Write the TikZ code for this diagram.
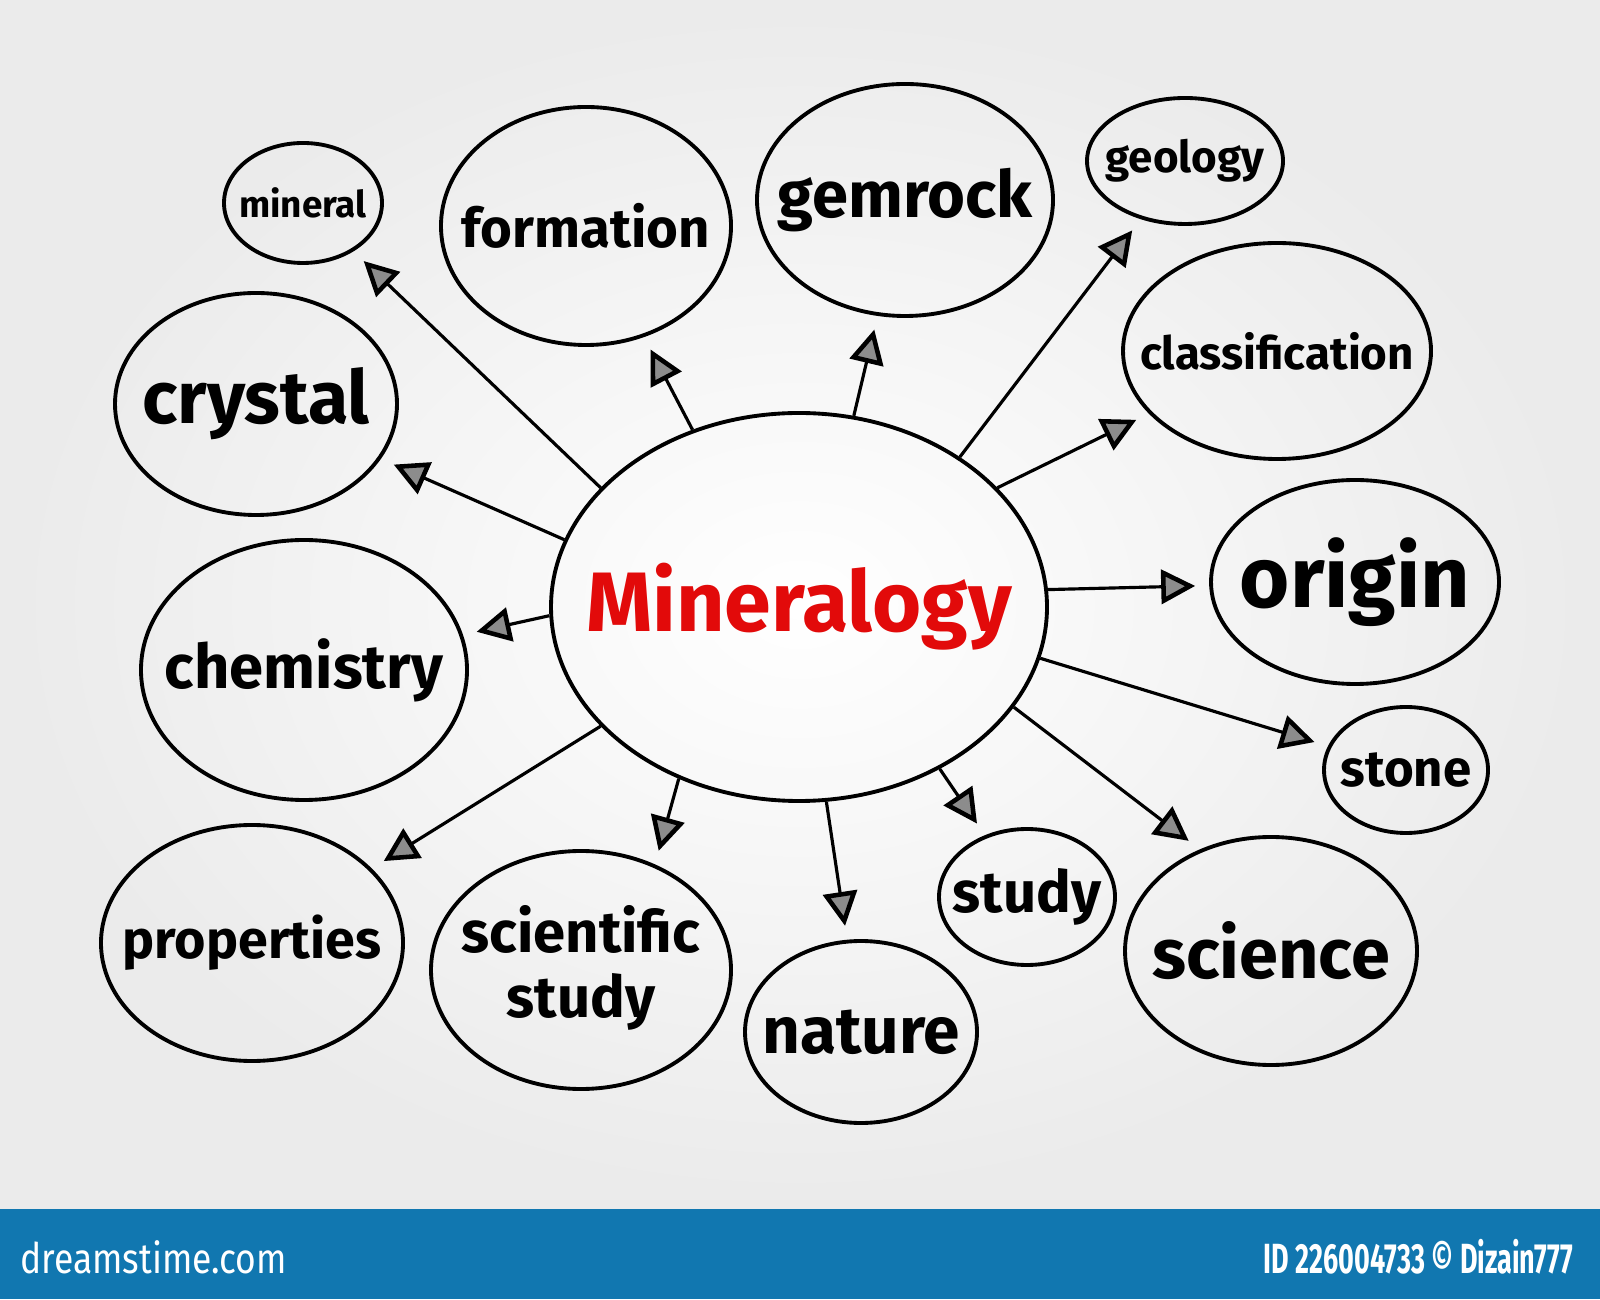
\documentclass[tikz,border=0pt]{standalone}
\usepackage{fontspec}
\setmainfont{Fira Sans}
\usetikzlibrary{shapes.geometric}
\usetikzlibrary{arrows.meta}
\definecolor{bannerblue}{RGB}{17,119,176}
\definecolor{titlered}{RGB}{226,10,10}
\newcommand{\ctext}[1]{\makebox[0pt]{#1}}

\begin{document}
\begin{tikzpicture}

\useasboundingbox (0,0) rectangle (16,12.99);
\shade[inner color=white, outer color=black!8] (0,0.9) rectangle (16,12.99);
\fill[bannerblue] (0,0) rectangle (16,0.9);

\begin{scope}[ellipse, line width=1.1pt, inner sep=0pt,
              fs/.style={font=\bfseries\fontsize{#1}{#1}\selectfont}]
  \node[draw, fs=24,   text=titlered, minimum width=4.96cm, minimum height=3.88cm] (MIN) at ( 7.99, 6.92) {\ctext{Mineralogy}};
  \node[draw, fs=10.5, minimum width=1.58cm, minimum height=1.20cm] (mineral)    at ( 3.03,10.96) {\ctext{mineral}};
  \node[draw, fs=15.5, minimum width=2.90cm, minimum height=2.38cm] (formation)  at ( 5.86,10.73) {\ctext{formation}};
  \node[draw, fs=18.5, minimum width=2.96cm, minimum height=2.32cm] (gemrock)    at ( 9.05,10.99) {\ctext{gemrock}};
  \node[draw, fs=12.5, minimum width=1.96cm, minimum height=1.26cm] (geology)    at (11.85,11.38) {\ctext{geology}};
  \node[draw, fs=13,   minimum width=3.08cm, minimum height=2.16cm] (classif)    at (12.77, 9.48) {\ctext{classification}};
  \node[draw, fs=21,   minimum width=2.82cm, minimum height=2.22cm] (crystal)    at ( 2.56, 8.95) {\ctext{crystal}};
  \node[draw, fs=24.5, minimum width=2.88cm, minimum height=2.04cm] (origin)     at (13.55, 7.17) {\ctext{origin}};
  \node[draw, fs=17.5, minimum width=3.26cm, minimum height=2.60cm] (chemistry)  at ( 3.04, 6.29) {\ctext{chemistry}};
  \node[draw, fs=14.5, minimum width=1.64cm, minimum height=1.26cm] (stone)      at (14.06, 5.29) {\ctext{stone}};
  \node[draw, fs=15.3, minimum width=3.02cm, minimum height=2.36cm] (properties) at ( 2.52, 3.56) {\ctext{properties}};
  \node[draw, fs=16.5, minimum width=3.00cm, minimum height=2.38cm] (scistudy)   at ( 5.81, 3.29)
    {\ctext{\begin{tabular}{@{}c@{}}scientific\\[1pt]study\end{tabular}}};
  \node[draw, fs=18.7, minimum width=2.32cm, minimum height=1.82cm] (nature)     at ( 8.61, 2.67) {\ctext{nature}};
  \node[draw, fs=16.5, minimum width=1.76cm, minimum height=1.36cm] (study)      at (10.27, 4.02) {\ctext{study}};
  \node[draw, fs=20,   minimum width=2.92cm, minimum height=2.28cm] (science)    at (12.71, 3.48) {\ctext{science}};
\end{scope}

\begin{scope}[line width=0.9pt, shorten >=0.14cm,
              -{Triangle[length=0.34cm, width=0.34cm, line width=1.3pt, fill=black!45]}]
\path (MIN.149) edge (mineral);
\path (MIN.121) edge (formation);
\path (MIN.74)  edge (gemrock);
\path (MIN.43)  edge (geology);
\path (MIN.31)  edge (classif);
\path (MIN.164) edge (crystal);
\path (MIN.4)   edge (origin);
\path (MIN.182) edge (chemistry);
\path (MIN.-12) edge (stone);
\path (MIN.211) edge (properties);
\path (MIN.235) edge (scistudy.55);
\path (MIN.278) edge (nature);
\path (MIN.311) edge (study);
\path (MIN.335) edge (science.125);
\end{scope}

\node[text=white, anchor=west, font=\fontsize{12}{12}\selectfont] (site) at (0.08,0.42)
  {\scalebox{0.84}[1]{dreamstime.com}};
\node[text=white, anchor=east, font=\bfseries\fontsize{12}{12}\selectfont] (credit) at (15.85,0.42)
  {\scalebox{0.64}[1]{ID 226004733 © Dizain777}};

\end{tikzpicture}
\end{document}
